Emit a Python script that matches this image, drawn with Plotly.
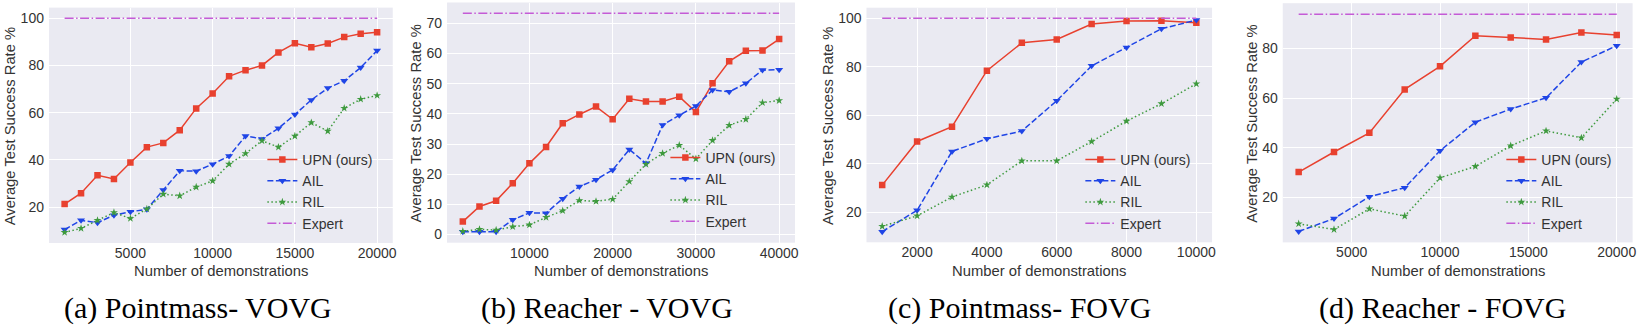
import plotly.graph_objects as go

# ---------------- data ----------------
x_a = [1000, 2000, 3000, 4000, 5000, 6000, 7000, 8000, 9000, 10000,
       11000, 12000, 13000, 14000, 15000, 16000, 17000, 18000, 19000, 20000]
upn_a = [21.3, 25.9, 33.5, 31.9, 38.9, 45.4, 47.2, 52.6, 61.8, 68.1,
         75.4, 78.0, 80.0, 85.5, 89.4, 87.7, 89.3, 92.0, 93.4, 94.1]
ail_a = [10.5, 14.4, 13.4, 16.6, 18.0, 19.1, 27.2, 35.4, 35.2, 38.2,
         41.6, 50.1, 48.9, 53.4, 59.2, 65.4, 70.4, 73.5, 79.1, 86.3]
ril_a = [9.3, 11.0, 14.4, 17.7, 15.2, 19.2, 25.5, 24.8, 28.5, 31.1,
         38.2, 42.7, 48.1, 45.4, 50.1, 55.8, 52.2, 61.9, 65.7, 67.3]
expert_a = 100.0

x_b = [2000, 4000, 6000, 8000, 10000, 12000, 14000, 16000, 18000, 20000,
       22000, 24000, 26000, 28000, 30000, 32000, 34000, 36000, 38000, 40000]
upn_b = [4.3, 9.3, 11.2, 17.0, 23.6, 29.0, 36.9, 39.8, 42.4, 38.2,
         45.0, 44.1, 44.1, 45.7, 40.6, 50.1, 57.4, 60.9, 61.0, 64.8]
ail_b = [0.9, 0.9, 0.9, 4.9, 7.2, 7.1, 11.9, 15.9, 18.2, 21.4,
         28.2, 23.6, 36.3, 39.5, 42.6, 47.9, 47.3, 50.1, 54.5, 54.6]
ril_b = [1.1, 1.7, 1.5, 2.6, 3.2, 5.7, 7.9, 11.3, 11.0, 11.7,
         17.6, 23.3, 26.9, 29.6, 25.1, 31.2, 36.2, 38.2, 43.7, 44.4]
expert_b = 73.3

x_c = [1000, 2000, 3000, 4000, 5000, 6000, 7000, 8000, 9000, 10000]
upn_c = [31.2, 49.2, 55.3, 78.4, 89.9, 91.3, 97.7, 98.9, 99.0, 98.2]
ail_c = [12.0, 20.8, 45.1, 50.3, 53.5, 66.0, 80.4, 88.0, 95.7, 99.3]
ril_c = [14.2, 18.5, 26.3, 31.3, 41.2, 41.2, 49.2, 57.6, 64.8, 73.0]
expert_c = 100.0

x_d = [2000, 4000, 6000, 8000, 10000, 12000, 14000, 16000, 18000, 20000]
upn_d = [30.2, 38.3, 46.0, 63.5, 72.8, 85.1, 84.4, 83.6, 86.4, 85.4]
ail_d = [6.3, 11.5, 20.3, 23.9, 38.8, 50.3, 55.6, 60.1, 74.5, 81.1]
ril_d = [9.4, 7.1, 15.4, 12.5, 27.9, 32.5, 40.8, 46.8, 44.0, 59.6]
expert_d = 93.8

series_names = ["UPN (ours)", "AIL", "RIL", "Expert"]
captions = ["(a) Pointmass- VOVG", "(b) Reacher - VOVG",
            "(c) Pointmass- FOVG", "(d) Reacher - FOVG"]
x_title = "Number of demonstrations"
y_title = "Average Test Success Rate %"

xticks = [[5000, 10000, 15000, 20000], [10000, 20000, 30000, 40000],
          [2000, 4000, 6000, 8000, 10000], [5000, 10000, 15000, 20000]]
yticks = [[20, 40, 60, 80, 100], [0, 10, 20, 30, 40, 50, 60, 70],
          [20, 40, 60, 80, 100], [20, 40, 60, 80]]

# ---------------- layout geometry (pixels) ----------------
W, H = 1644, 327
panels = [
    dict(x=x_a, upn=upn_a, ail=ail_a, ril=ril_a, exp=expert_a,
         px=(49.1, 393.7), py=(7.6, 243.0), xr=[50, 20950], yr=[4.8, 104.5],
         ytx=10, leg=(263, 144), cap=198),
    dict(x=x_b, upn=upn_b, ail=ail_b, ril=ril_b, exp=expert_b,
         px=(448.1, 796.9), py=(2.5, 242.7), xr=[100, 41900], yr=[-2.7, 76.9],
         ytx=417, leg=(667, 142), cap=608),
    dict(x=x_c, upn=upn_c, ail=ail_c, ril=ril_c, exp=expert_c,
         px=(868.6, 1215.0), py=(7.7, 242.3), xr=[550, 10450], yr=[7.6, 104.4],
         ytx=830, leg=(1083, 144), cap=1022),
    dict(x=x_d, upn=upn_d, ail=ail_d, ril=ril_d, exp=expert_d,
         px=(1285.9, 1636.6), py=(3.2, 242.4), xr=[1100, 20900], yr=[1.9, 98.2],
         ytx=1255, leg=(1505, 144), cap=1446),
]

RED = "#E8412F"
BLUE = "#1F45E6"
GREEN = "#3E9A3E"
MAG = "#C45BD6"
TXT = "#333333"
SANS = "Liberation Sans"
SERIF = "Liberation Serif"

fig = go.Figure()
layout = dict(width=W, height=H, margin=dict(l=0, r=0, t=0, b=0),
              paper_bgcolor="white", plot_bgcolor="#EAEAF2",
              font=dict(family=SANS, color=TXT, size=14), annotations=[])

for i, p in enumerate(panels):
    k = "" if i == 0 else str(i + 1)
    xa, ya = "x" + k, "y" + k
    lg = "legend" + k
    common = dict(xaxis=xa, yaxis=ya, legend=lg, mode="lines+markers")
    fig.add_trace(go.Scatter(x=p["x"], y=p["upn"], name=series_names[0],
                             line=dict(color=RED, width=1.5),
                             marker=dict(symbol="square", size=6.5, color=RED), **common))
    fig.add_trace(go.Scatter(x=p["x"], y=p["ail"], name=series_names[1],
                             line=dict(color=BLUE, width=1.5, dash="6px,2.5px"),
                             marker=dict(symbol="triangle-down", size=7, color=BLUE), **common))
    fig.add_trace(go.Scatter(x=p["x"], y=p["ril"], name=series_names[2],
                             line=dict(color=GREEN, width=1.5, dash="1.5px,2.5px"),
                             marker=dict(symbol="star", size=6, color=GREEN), **common))
    fig.add_trace(go.Scatter(x=[p["x"][0], p["x"][-1]], y=[p["exp"], p["exp"]],
                             name=series_names[3], xaxis=xa, yaxis=ya, legend=lg,
                             mode="lines",
                             line=dict(color=MAG, width=1.5, dash="9px,2.5px,1.5px,2.5px")))

    x0, x1 = p["px"]
    y0, y1 = p["py"]
    layout["xaxis" + k] = dict(domain=[x0 / W, x1 / W], range=p["xr"], anchor=ya,
                               tickvals=xticks[i], ticktext=[str(v) for v in xticks[i]],
                               showgrid=True, gridcolor="white", gridwidth=1,
                               zeroline=False, showline=False, ticks="",
                               tickfont=dict(size=14, color=TXT, family=SANS))
    layout["yaxis" + k] = dict(domain=[1 - y1 / H, 1 - y0 / H], range=p["yr"], anchor=xa,
                               tickvals=yticks[i], ticktext=[str(v) for v in yticks[i]],
                               showgrid=True, gridcolor="white", gridwidth=1,
                               zeroline=False, showline=False, ticks="",
                               ticklabelstandoff=4,
                               tickfont=dict(size=14, color=TXT, family=SANS))
    lx, ly = p["leg"]
    layout[lg] = dict(x=lx / W, y=1 - ly / H, xanchor="left", yanchor="top",
                      xref="paper", yref="paper",
                      bgcolor="rgba(0,0,0,0)", borderwidth=0,
                      font=dict(size=14, color=TXT, family=SANS),
                      itemwidth=30, tracegroupgap=0)
    # y axis title
    layout["annotations"].append(dict(
        text=y_title, textangle=-90, x=p["ytx"] / W, y=1 - ((y0 + y1) / 2) / H,
        xref="paper", yref="paper", xanchor="center", yanchor="middle",
        showarrow=False, font=dict(size=14.8, color=TXT, family=SANS)))
    # x axis title
    layout["annotations"].append(dict(
        text=x_title, x=((x0 + x1) / 2) / W, y=1 - 271 / H,
        xref="paper", yref="paper", xanchor="center", yanchor="middle",
        showarrow=False, font=dict(size=14.8, color=TXT, family=SANS)))
    # caption
    layout["annotations"].append(dict(
        text=captions[i], x=p["cap"] / W, y=1 - 307.5 / H,
        xref="paper", yref="paper", xanchor="center", yanchor="middle",
        showarrow=False, font=dict(size=30, color="black", family=SERIF)))

fig.update_layout(**layout)
fig.write_html("out.html", config={"displayModeBar": False},
               post_script="document.body.style.margin='0';document.body.style.padding='0';")
